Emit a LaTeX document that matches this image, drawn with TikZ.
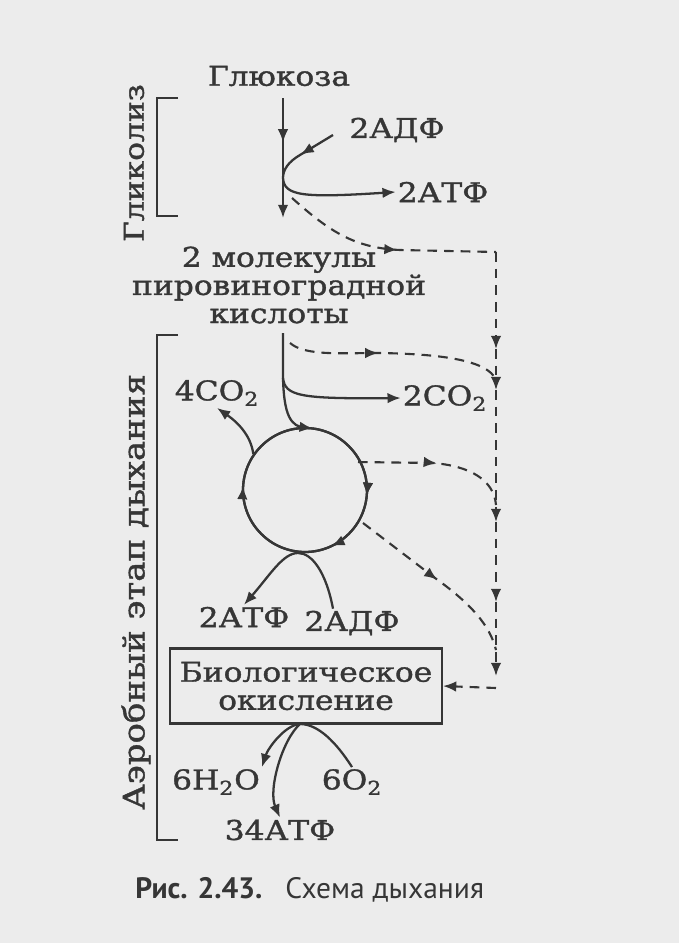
\documentclass[tikz,border=0pt]{standalone}
\usepackage{fontspec}
\setmainfont{DejaVu Serif}[FakeStretch=1.15, FakeBold=1.3]
\newfontfamily\capfont{PT Sans}
\usetikzlibrary{arrows.meta,positioning,calc,decorations.markings}
\definecolor{ink}{HTML}{363636}
\definecolor{paper}{HTML}{ECECEC}

\begin{document}
\begin{tikzpicture}[
    x=0.02cm, y=-0.02cm,
    lbl/.style={
        text=ink,
        inner sep=1pt,
        align=center,
        font=\fontsize{15.5}{16}\selectfont
    },
    sidelbl/.style={
        lbl,
        rotate=90
    },
    box/.style={
        lbl,
        draw=ink,
        line width=1.2pt,
        minimum width=5.44cm,
        minimum height=1.5cm
    },
    line/.style={
        draw=ink,
        line width=1.3pt,
        -{Latex[length=7.5pt,width=6pt]}
    },
    plain/.style={
        draw=ink,
        line width=1.3pt
    },
    dline/.style={
        draw=ink,
        line width=1.2pt,
        dash pattern=on 5.5pt off 4pt,
        -{Latex[length=7.5pt,width=6pt]}
    },
    midarrow/.style={
        postaction={decorate},
        decoration={markings, mark=at position #1 with {\arrow{Latex[length=7.5pt,width=6pt]}}}
    },
    brace/.style={
        draw=ink,
        line width=1.2pt
    }
]

    % Page
    \fill [paper] (0,0) rectangle (679,943);

    % Glycolysis
    \node [lbl] (glucose) at (279,76) {Глюкоза};
    \node [lbl] (adp1) at (397,130) {2АДФ};
    \node [lbl] (atp1) at (443,192) {2АТФ};
    \node [sidelbl] (glyc) at (134,163) {Гликолиз};
    \path [brace] (178,98) -- (157,98) -- (157,216) -- (178,216);

    \coordinate (g_top) at (283,98);
    \coordinate (g_end) at (283,218);
    \coordinate (adp1_s) at (333,135);
    \path [line, midarrow=0.37] (g_top) -- (g_end);
    \path [line, midarrow=0.2] (adp1_s) -- (300,155) .. controls (288,162) and (283,170) .. (283,178)
        .. controls (284,196) and (303,198) .. (atp1.west);

    % Pyruvate
    \node [lbl] (pyr) at (279,285) {2 молекулы\\пировиноградной\\кислоты};

    % Aerobic stage
    \node [sidelbl, font=\fontsize{16.8}{17}\selectfont] (aer) at (136,592) {Аэробный этап дыхания};
    \path [brace] (178,335) -- (157,335) -- (157,840) -- (178,840);

    \node [lbl] (co2a) at (217,393) {4CO\textsubscript{2}};
    \node [lbl] (co2b) at (445,398) {2CO\textsubscript{2}};
    \coordinate (p_top) at (283,333);
    \coordinate (p_fork) at (283,378);
    \path [line] (p_top) -- (p_fork) .. controls (285,396) and (300,399) .. (co2b.west);
    \path [plain] (p_fork) .. controls (284,414) and (290,427) .. (306,428);

    % Cycle
    \node [circle, draw=ink, line width=1.3pt, minimum size=2.48cm, inner sep=0pt] (cycle) at (305,490) {};
    \path [draw=ink, line width=1.3pt, midarrow=0.015, postaction={decorate, decoration={markings,
        mark=at position 0.18 with {\arrow{Latex[length=7.5pt,width=6pt]}},
        mark=at position 0.51 with {\arrow{Latex[length=7.5pt,width=6pt]}},
        mark=at position 0.77 with {\arrow{Latex[length=7.5pt,width=6pt]}}}}]
        (cycle.center) ++(62,0) arc [start angle=0, end angle=360, radius=62];
    \path [line] (cycle.145) .. controls (251,437) and (240,424) .. (co2a.south);

    \node [lbl] (atp2) at (244,617) {2АТФ};
    \node [lbl] (adp2) at (352,623) {2АДФ};
    \coordinate (c_low) at (298,553);
    \path [line] ($(adp2.north)+(-19,0)$) .. controls (326,572) and (312,553) .. (c_low)
        .. controls (283,553) and (270,575) .. (atp2.north);

    % Oxidation
    \node [box] (ox) at (306,686) {Биологическое\\окисление};
    \node [lbl] (h2o) at (216,782) {6H\textsubscript{2}O};
    \node [lbl] (o2) at (352,782) {6O\textsubscript{2}};
    \node [lbl] (atp3) at (280,830) {34АТФ};
    \coordinate (ox_low) at (300,724);
    \path [line] (o2.north) .. controls (336,742) and (318,724) .. (ox_low)
        .. controls (285,725) and (268,748) .. (h2o.north east);
    \path [line] (ox_low) .. controls (282,740) and (268,790) .. (atp3.north);

    % Dashed paths
    \coordinate (d_top) at (496,252);
    \coordinate (d_end) at (496,688);
    \path [dline, -, midarrow=0.55] (292,198) .. controls (330,232) and (355,248) .. (400,250) -- (d_top);
    \path [dline] (d_top) -- (496,349);
    \path [dline, -, midarrow=0.42] (290,343) .. controls (305,356) and (340,353) .. (380,353)
        .. controls (440,354) and (488,360) .. (496,380);
    \path [dline] (496,349) -- (496,390);
    \path [dline, -, midarrow=0.5] (358,462) -- (433,463) .. controls (470,466) and (494,480) .. (496,505);
    \path [dline] (496,390) -- (496,522);
    \path [dline] (496,522) -- (496,602);
    \path [dline, -, midarrow=0.5] (363,523) -- (435,578) .. controls (470,603) and (490,625) .. (496,650);
    \path [dline] (496,602) -- (496,676);
    \path [dline] (d_end) -- (ox.east);

    % Caption
    \node [anchor=base west, text=ink, font=\capfont\fontsize{16.8}{18}\selectfont\bfseries, inner sep=0pt] (fig) at (135,898) {Рис. 2.43.};
    \node [anchor=base west, text=ink, font=\capfont\fontsize{16.8}{18}\selectfont, inner sep=0pt] (title) at (285,898) {Схема дыхания};

\end{tikzpicture}
\end{document}
